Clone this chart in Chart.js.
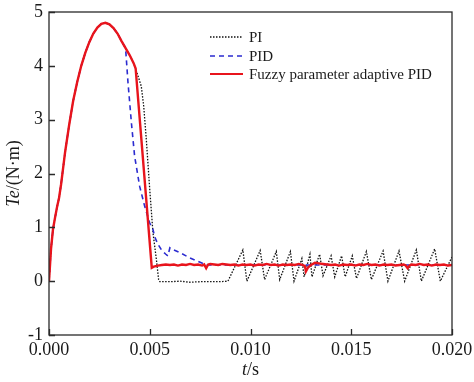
<!DOCTYPE html>
<html>
<head>
<meta charset="utf-8">
<script src="https://cdn.jsdelivr.net/npm/chart.js@4.4.1/dist/chart.umd.min.js"></script>
<style>
  html, body { margin: 0; padding: 0; background: #fff; }
  #wrap { width: 474px; height: 382px; }
</style>
</head>
<body>
<div id="wrap"><canvas id="teChart" width="474" height="382"></canvas></div>
<script>
// shared start-up transient (all three controllers identical here)
const riseT = [0, 0.0001, 0.0002, 0.0003, 0.0004, 0.0005, 0.0006, 0.0007, 0.0008, 0.0009, 0.0010,
  0.0012, 0.0014, 0.0016, 0.0018, 0.0020, 0.0022, 0.0024, 0.0026, 0.0028, 0.0030, 0.0032,
  0.0034, 0.0036, 0.0038];
const riseV = [0, 0.6, 0.97, 1.18, 1.38, 1.55, 1.8, 2.1, 2.4, 2.65, 2.9,
  3.35, 3.7, 4.0, 4.24, 4.44, 4.6, 4.71, 4.78, 4.8, 4.77, 4.7,
  4.6, 4.46, 4.33];

// PI (black dotted)
const piT = [0.0040, 0.0042, 0.0043, 0.00458, 0.0047, 0.00483, 0.0050, 0.00516, 0.00533, 0.00544, 0.0055,
  0.0060, 0.0065, 0.0070, 0.0075, 0.0080, 0.0085, 0.00888,
  0.00962, 0.00982, 0.01048, 0.01070, 0.01128, 0.01145, 0.01198, 0.01216, 0.01255, 0.01266,
  0.01295, 0.01305, 0.01343, 0.01360, 0.01400, 0.01418, 0.01452, 0.01470, 0.01505, 0.01526,
  0.01575, 0.01600, 0.01658, 0.01682, 0.01737, 0.01765, 0.01823, 0.01848, 0.01914, 0.01942, 0.02000];
const piV = [4.2, 4.05, 3.95, 3.62, 3.25, 2.63, 1.7, 0.9, 0.4, 0.03, -0.01,
  -0.01, 0.0, -0.02, -0.01, -0.01, -0.01, 0.0,
  0.58, 0.0, 0.57, 0.03, 0.55, 0.03, 0.55, 0.0, 0.42, 0.08,
  0.5, 0.08, 0.5, 0.1, 0.47, 0.08, 0.47, 0.08, 0.47, 0.05,
  0.55, 0.03, 0.56, 0.0, 0.56, 0.0, 0.58, 0.0, 0.6, 0.0, 0.45];

// PID (blue dashed)
const pidT = [0.00392, 0.00409, 0.00425, 0.0045, 0.00475, 0.0050, 0.00516, 0.00525, 0.0054, 0.0056,
  0.0058, 0.0059, 0.0060, 0.0062, 0.0065, 0.0068, 0.0070, 0.0072, 0.0075, 0.0078, 0.0085, 0.0100, 0.0200];
const pidV = [3.69, 2.94, 2.32, 1.76, 1.39, 1.08, 0.96, 0.82, 0.69, 0.57,
  0.5, 0.47, 0.62, 0.58, 0.53, 0.47, 0.43, 0.4, 0.35, 0.3, 0.3, 0.3, 0.3];

// Fuzzy parameter adaptive PID (red solid)
const fuzzyT = [0.0040, 0.0042, 0.0043, 0.0051, 0.0052, 0.0054, 0.0056, 0.0058,
  0.0060, 0.0062, 0.0064, 0.0066, 0.0068, 0.0070, 0.0072, 0.0074, 0.0076, 0.0077, 0.0078, 0.0079,
  0.0080, 0.0082, 0.0084, 0.0086, 0.0088, 0.0090, 0.0092, 0.0094, 0.0096, 0.0098,
  0.0100, 0.0102, 0.0104, 0.0106, 0.0108, 0.0110, 0.0112, 0.0114, 0.0116, 0.0118,
  0.0120, 0.0122, 0.0124, 0.0126, 0.0127, 0.01275, 0.01285, 0.0130, 0.0132, 0.0134, 0.0136, 0.0138,
  0.0140, 0.0142, 0.0144, 0.0146, 0.0148, 0.0150, 0.0152, 0.0154, 0.0156, 0.0158,
  0.0160, 0.0162, 0.0164, 0.0166, 0.0168, 0.0170, 0.0172, 0.0174, 0.0176, 0.0177, 0.0178, 0.0179,
  0.0180, 0.0182, 0.0184, 0.0186, 0.0188, 0.0190, 0.0192, 0.0194, 0.0196, 0.0198, 0.0200];
const fuzzyV = [4.2, 4.05, 3.95, 0.25, 0.27, 0.29, 0.30, 0.31,
  0.30, 0.31, 0.29, 0.31, 0.30, 0.32, 0.30, 0.31, 0.29, 0.31, 0.24, 0.31,
  0.32, 0.31, 0.30, 0.32, 0.31, 0.30, 0.31, 0.29, 0.31, 0.30,
  0.31, 0.29, 0.31, 0.30, 0.32, 0.30, 0.31, 0.29, 0.31, 0.30,
  0.31, 0.30, 0.32, 0.30, 0.28, 0.18, 0.25, 0.30, 0.34, 0.33, 0.32, 0.31,
  0.30, 0.31, 0.29, 0.31, 0.30, 0.31, 0.29, 0.31, 0.30, 0.32,
  0.30, 0.31, 0.29, 0.31, 0.30, 0.31, 0.29, 0.30, 0.31, 0.29, 0.24, 0.29,
  0.31, 0.30, 0.32, 0.30, 0.31, 0.29, 0.31, 0.30, 0.31, 0.29, 0.30];

const legendLabels = ['PI', 'PID', 'Fuzzy parameter adaptive PID'];
const xTitle = ['t', '/s'];
const yTitle = ['Te', '/(N·m)'];

const SERIF = "'Liberation Serif', 'Times New Roman', serif";

function toPoints(tA, vA) {
  return tA.map((t, i) => ({ x: t, y: vA[i] }));
}

const piData = toPoints(riseT.concat(piT), riseV.concat(piV));
const pidData = toPoints(riseT.concat(pidT), riseV.concat(pidV));
const fuzzyData = toPoints(riseT.concat(fuzzyT), riseV.concat(fuzzyV));

const styles = [
  { color: '#111111', width: 1.3, dash: [1.5, 1.5] },
  { color: '#2b2bd0', width: 1.6, dash: [5, 4] },
  { color: '#e8141c', width: 2.4, dash: [] }
];

// frame, inward ticks, axis titles and legend
const framePlugin = {
  id: 'frame',
  afterDatasetsDraw(chart) {
    const { ctx, chartArea: a, scales } = chart;
    ctx.save();
    ctx.strokeStyle = '#2a2a2a';
    ctx.lineWidth = 1.3;
    ctx.strokeRect(a.left, a.top, a.right - a.left, a.bottom - a.top);

    ctx.beginPath();
    scales.x.ticks.forEach(tk => {
      const px = Math.round(scales.x.getPixelForValue(tk.value)) + 0.5;
      ctx.moveTo(px, a.bottom);
      ctx.lineTo(px, a.bottom - 6);
    });
    scales.y.ticks.forEach(tk => {
      const py = Math.round(scales.y.getPixelForValue(tk.value)) + 0.5;
      ctx.moveTo(a.left, py);
      ctx.lineTo(a.left + 6, py);
    });
    ctx.stroke();

    // x title: italic t + /s
    ctx.fillStyle = '#1a1a1a';
    ctx.textBaseline = 'middle';
    const cx = (a.left + a.right) / 2;
    ctx.font = 'italic 18px ' + SERIF;
    const w1 = ctx.measureText(xTitle[0]).width;
    ctx.font = '18px ' + SERIF;
    const w2 = ctx.measureText(xTitle[1]).width;
    let sx = cx - (w1 + w2) / 2;
    ctx.textAlign = 'left';
    ctx.font = 'italic 18px ' + SERIF;
    ctx.fillText(xTitle[0], sx, 370);
    ctx.font = '18px ' + SERIF;
    ctx.fillText(xTitle[1], sx + w1, 370);

    // y title rotated
    ctx.save();
    ctx.translate(14, (a.top + a.bottom) / 2);
    ctx.rotate(-Math.PI / 2);
    ctx.font = 'italic 18px ' + SERIF;
    const v1 = ctx.measureText(yTitle[0]).width;
    ctx.font = '18px ' + SERIF;
    const v2 = ctx.measureText(yTitle[1]).width;
    const sy = -(v1 + v2) / 2;
    ctx.font = 'italic 18px ' + SERIF;
    ctx.fillText(yTitle[0], sy, 0);
    ctx.font = '18px ' + SERIF;
    ctx.fillText(yTitle[1], sy + v1, 0);
    ctx.restore();

    // legend
    const rows = [37, 56, 74];
    legendLabels.forEach((lab, i) => {
      const s = styles[i];
      ctx.beginPath();
      ctx.strokeStyle = s.color;
      ctx.lineWidth = Math.min(s.width, 2);
      ctx.setLineDash(s.dash);
      ctx.moveTo(210, rows[i]);
      ctx.lineTo(243, rows[i]);
      ctx.stroke();
      ctx.setLineDash([]);
      ctx.font = '15px ' + SERIF;
      ctx.fillStyle = '#1a1a1a';
      ctx.fillText(lab, 249, rows[i] + 1);
    });
    ctx.restore();
  }
};

const ctx = document.getElementById('teChart').getContext('2d');
new Chart(ctx, {
  type: 'line',
  data: {
    datasets: [
      { label: legendLabels[0], data: piData, borderColor: styles[0].color, borderWidth: styles[0].width,
        borderDash: styles[0].dash, pointRadius: 0, order: 3 },
      { label: legendLabels[1], data: pidData, borderColor: styles[1].color, borderWidth: styles[1].width,
        borderDash: styles[1].dash, pointRadius: 0, order: 2 },
      { label: legendLabels[2], data: fuzzyData, borderColor: styles[2].color, borderWidth: styles[2].width,
        pointRadius: 0, order: 1 }
    ]
  },
  options: {
    responsive: false,
    animation: false,
    events: [],
    layout: { padding: { left: 0, right: 22, top: 12, bottom: 0 } },
    plugins: { legend: { display: false }, tooltip: { enabled: false } },
    scales: {
      x: {
        type: 'linear', min: 0, max: 0.02,
        grid: { display: false, drawTicks: false },
        border: { display: false },
        ticks: { stepSize: 0.005, padding: 4, color: '#1a1a1a', font: { family: SERIF, size: 18 },
          maxRotation: 0, callback: v => v.toFixed(3) },
        afterFit: s => { s.height = 47; s.paddingLeft = 0; s.paddingRight = 0; }
      },
      y: {
        min: -1, max: 5,
        grid: { display: false, drawTicks: false },
        border: { display: false },
        ticks: { stepSize: 1, padding: 6, color: '#1a1a1a', font: { family: SERIF, size: 18 } },
        afterFit: s => { s.width = 49; s.paddingTop = 0; s.paddingBottom = 0; }
      }
    }
  },
  plugins: [framePlugin]
});
</script>
</body>
</html>
